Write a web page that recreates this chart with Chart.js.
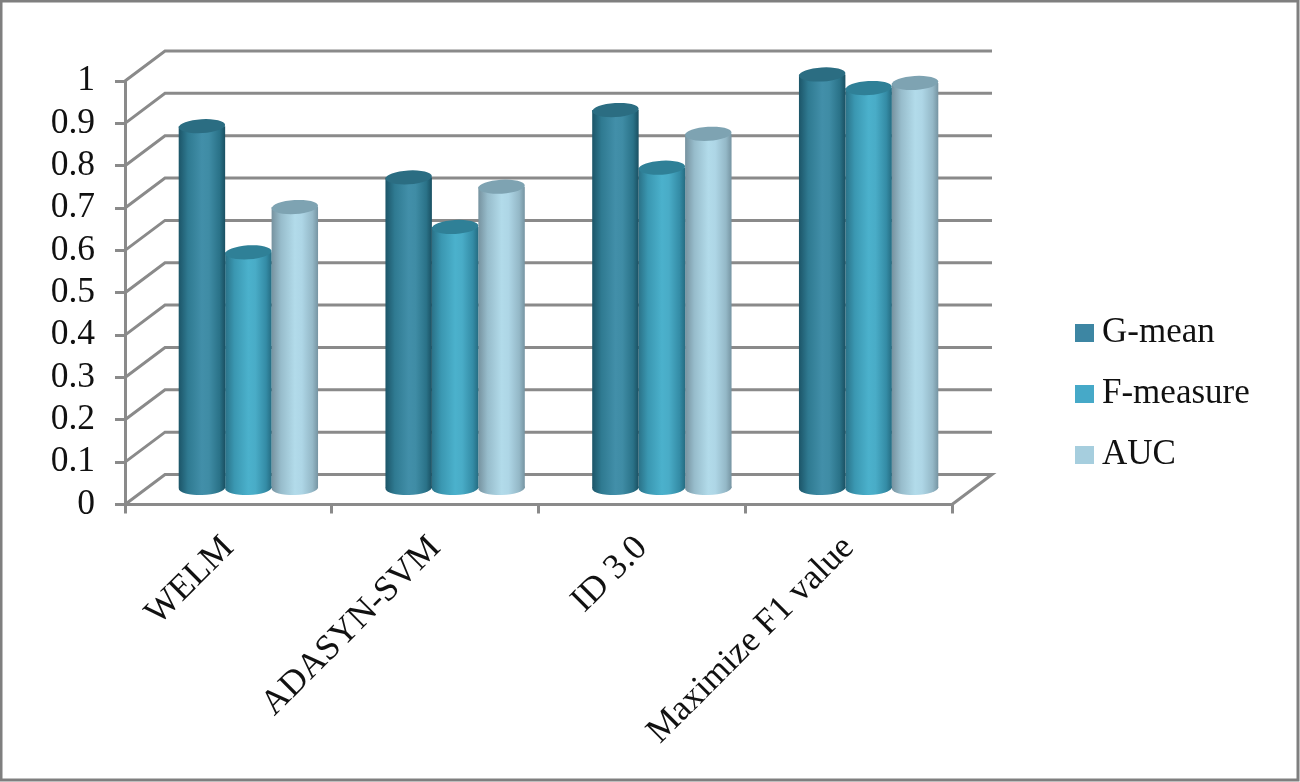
<!DOCTYPE html>
<html>
<head>
<meta charset="utf-8">
<style>
html,body{margin:0;padding:0;background:#fff;}
#wrap{position:relative;width:1300px;height:782px;overflow:hidden;}
canvas{display:block;filter:blur(0.5px);}
</style>
<script src="https://cdn.jsdelivr.net/npm/chart.js@4/dist/chart.umd.min.js"></script>
</head>
<body>
<div id="wrap"><canvas id="c" width="1300" height="782"></canvas></div>
<script>
const categories = ['WELM', 'ADASYN-SVM', 'ID 3.0', 'Maximize F1 value'];
const gMean = [0.858, 0.737, 0.896, 0.98];
const fMeasure = [0.56, 0.62, 0.76, 0.948];
const auc = [0.667, 0.715, 0.84, 0.96];
const yTickLabels = ['0', '0.1', '0.2', '0.3', '0.4', '0.5', '0.6', '0.7', '0.8', '0.9', '1'];

const GRID = '#8a8a8a';
const DEPTH_X = 40, DEPTH_Y = 30;
const SHIFT_X = 20, SHIFT_Y = 15;
const CAT_PCT = 0.674;
const RY = 7;
const styles = [
  {legend:'#3d86a3', cap:'#2b6d82', stops:['#1c5568','#2f7a91','#428fa9','#3f8ca5','#2a7288','#1a5062']},
  {legend:'#46a9c8', cap:'#2f8097', stops:['#2a7288','#3a97b1','#4bb1cc','#49acc7','#348ca6','#256c82']},
  {legend:'#a6cede', cap:'#7ea3b2', stops:['#76929f','#97bccb','#b2dbea','#aed6e6','#94b8c7','#7694a2']}
];

function swatch(color){
  const s = document.createElement('canvas');
  s.width = 19; s.height = 18;
  const x = s.getContext('2d');
  x.fillStyle = color; x.fillRect(0,0,19,18);
  return s;
}

function barGradient(ctx, left, w, stops){
  const g = ctx.createLinearGradient(left,0,left+w,0);
  const pos = [0,0.2,0.5,0.65,0.88,1];
  stops.forEach((c,i)=>g.addColorStop(pos[i],c));
  return g;
}

function scriptedFill(context){
  const chart = context.chart, ds = context.datasetIndex, st = styles[ds];
  const sx = chart.scales.x;
  if(!chart.chartArea || context.dataIndex === undefined || !sx) return st.legend;
  const catW = sx.width / categories.length;
  const w = catW * CAT_PCT / 3;
  const cx = sx.getPixelForValue(context.dataIndex) + (ds-1)*w;
  return barGradient(chart.ctx, cx-w/2, w, st.stops);
}

const depthPlugin = {
  id:'depth',
  beforeInit(chart){
    const l = chart.legend, f = l.fit;
    l.fit = function(){ f.call(this); this.width = 348; };
  },
  afterLayout(chart){
    const l = chart.legend;
    l.left = 1057.5; l.right = 1300;
    l.top = 3; l.bottom = 785;
  },
  beforeDatasetsDraw(chart){
    const {ctx, chartArea:a, scales:{y}} = chart;
    ctx.save();
    ctx.strokeStyle = GRID; ctx.lineWidth = 3; ctx.lineJoin='miter';
    y.ticks.forEach(t=>{
      const py = y.getPixelForValue(t.value);
      ctx.beginPath();
      ctx.moveTo(a.left,py);
      ctx.lineTo(a.left+DEPTH_X,py-DEPTH_Y);
      ctx.lineTo(a.right+DEPTH_X,py-DEPTH_Y);
      if(t.value===0) ctx.lineTo(a.right,py);
      ctx.stroke();
    });
    ctx.restore();
  },
  beforeDatasetDraw(chart,args){
    const ctx = chart.ctx, st = styles[args.index];
    ctx.save();
    ctx.translate(SHIFT_X,-SHIFT_Y);
    args.meta.data.forEach(b=>{
      const w=b.width;
      ctx.fillStyle = barGradient(ctx,b.x-w/2,w,st.stops);
      ctx.beginPath();
      ctx.ellipse(b.x,b.base,w/2,RY,-0.03,0,Math.PI*2);
      ctx.fill();
    });
  },
  afterDatasetDraw(chart,args){
    const ctx = chart.ctx, st = styles[args.index];
    args.meta.data.forEach(b=>{
      ctx.fillStyle = st.cap;
      ctx.beginPath();
      ctx.ellipse(b.x,b.y,b.width/2,RY,-0.06,0,Math.PI*2);
      ctx.fill();
    });
    ctx.restore();
  },
  afterDraw(chart){
    const ctx = chart.ctx;
    ctx.save();
    ctx.strokeStyle='#7f7f7f'; ctx.lineWidth=3;
    ctx.strokeRect(1,1,1297,779);
    ctx.restore();
  }
};

const mk = (label,data)=>({label,data,backgroundColor:scriptedFill,borderWidth:0,clip:false,
  categoryPercentage:CAT_PCT,barPercentage:1});

new Chart(document.getElementById('c'),{
  type:'bar',
  data:{labels:categories,datasets:[mk('G-mean',gMean),mk('F-measure',fMeasure),mk('AUC',auc)]},
  plugins:[depthPlugin],
  options:{
    responsive:false,animation:false,
    layout:{padding:{top:81,left:0,right:0,bottom:0}},
    plugins:{
      tooltip:{enabled:false},
      legend:{
        display:true,position:'right',
        labels:{
          usePointStyle:true,pointStyleWidth:1,boxHeight:18,padding:26,color:'#111',
          font:{family:'"Liberation Serif"',size:35},
          generateLabels(chart){
            return chart.data.datasets.map((d,i)=>({
              text:d.label,fontColor:'#111',fillStyle:styles[i].legend,strokeStyle:styles[i].legend,
              lineWidth:0,pointStyle:swatch(styles[i].legend),datasetIndex:i,hidden:false
            }));
          }
        }
      }
    },
    scales:{
      x:{
        afterFit(s){s.height=277.5;},
        border:{display:true,color:GRID,width:3},
        grid:{display:true,offset:true,drawOnChartArea:false,drawTicks:true,tickLength:9,tickColor:GRID,tickWidth:3,color:GRID,lineWidth:3},
        ticks:{autoSkip:false,minRotation:45,maxRotation:45,padding:14,color:'#111',font:{family:'"Liberation Serif"',size:35.5}}
      },
      y:{
        min:0,max:1,
        afterFit(s){s.width=125;},
        border:{display:true,color:GRID,width:3},
        grid:{display:true,drawOnChartArea:false,drawTicks:true,tickLength:10,tickColor:GRID,tickWidth:3,color:GRID,lineWidth:3},
        ticks:{autoSkip:false,stepSize:0.1,padding:20,color:'#111',font:{family:'"Liberation Serif"',size:35.5},
          callback(v,i){return yTickLabels[i];}}
      }
    }
  }
});
</script>
</body>
</html>
